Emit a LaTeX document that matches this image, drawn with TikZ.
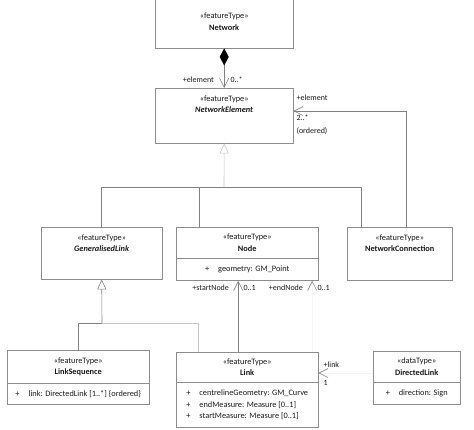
\documentclass[tikz,border=0pt]{standalone}
\usepackage{fontspec}
\setmainfont{Carlito}
\usetikzlibrary{arrows.meta, positioning}
\definecolor{boxgray}{gray}{0.55}
\definecolor{linegray}{gray}{0.5}
\definecolor{palegray}{gray}{0.78}
\definecolor{faintgray}{gray}{0.96}
\definecolor{txt}{gray}{0.1}

\begin{document}
\begin{tikzpicture}[x=1pt, y=-1pt, font=\fontsize{8.3}{11.5}\selectfont, text=txt,
    cls/.style={rectangle, draw=boxgray, fill=white, anchor=north west, inner sep=0pt},
    head/.style={cls, align=center},
    attrs/.style={cls, align=left, inner xsep=6pt},
    title/.style={align=center, inner sep=0pt},
    lbl/.style={inner sep=0pt, font=\fontsize{8}{12.5}\selectfont},
    line/.style={draw=linegray, line width=0.6pt},
    gen/.style={line, -{Triangle[open, length=10pt, width=9pt]}},
    assoc/.style={line, -{Straight Barb[length=9pt, width=9pt, color=linegray]}}]

    \useasboundingbox (0,0) rectangle (474,429);

    % classes with one compartment
    \node [cls, minimum width=138, minimum height=54] (network) at (155,-6) {};
    \node [title, below=19pt of network.north] (network-t) {«featureType»\\\textbf{Network}};
    \node [cls, minimum width=138, minimum height=55] (netelem) at (155,88) {};
    \node [title, below=7.5pt of netelem.north] (netelem-t) {«featureType»\\\textbf{\textit{NetworkElement}}};
    \node [cls, minimum width=121, minimum height=52] (genlink) at (41,227) {};
    \node [title, below=7.5pt of genlink.north] (genlink-t) {«featureType»\\\textbf{\textit{GeneralisedLink}}};
    \node [cls, minimum width=105, minimum height=53] (netconn) at (347,227) {};
    \node [title, below=7.5pt of netconn.north] (netconn-t) {«featureType»\\\textbf{NetworkConnection}};

    % classes with attributes
    \node [head, minimum width=142, minimum height=31] (nodeh) at (176,227) {«featureType»\\\textbf{Node}};
    \node [attrs, minimum width=142, minimum height=22] (nodeattr) at (nodeh.south west)
        {\begin{tabular}{@{}l@{\hspace{9pt}}l@{}}+ & geometry: GM\_Point\end{tabular}};
    \node [head, minimum width=142, minimum height=33] (linkseqh) at (7,350) {«featureType»\\\textbf{LinkSequence}};
    \node [attrs, minimum width=142, minimum height=21] (linkseqattr) at (linkseqh.south west)
        {\begin{tabular}{@{}l@{\hspace{9pt}}l@{}}+ & link: DirectedLink [1..*] \{ordered\}\end{tabular}};
    \node [head, minimum width=142, minimum height=30] (linkh) at (176,352) {«featureType»\\\textbf{Link}};
    \node [attrs, minimum width=142, minimum height=45] (linkattr) at (linkh.south west)
        {\begin{tabular}{@{}l@{\hspace{9pt}}l@{}}+ & centrelineGeometry: GM\_Curve\\+ & endMeasure: Measure [0..1]\\+ & startMeasure: Measure [0..1]\end{tabular}};
    \node [head, minimum width=87, minimum height=31] (dlinkh) at (373,351) {«dataType»\\\textbf{DirectedLink}};
    \node [attrs, minimum width=87, minimum height=22] (dlinkattr) at (dlinkh.south west)
        {\begin{tabular}{@{}l@{\hspace{9pt}}l@{}}+ & direction: Sign\end{tabular}};

    % composition
    \draw [line, {Diamond[color=black, length=17pt, width=9pt]}-{Straight Barb[length=9pt, width=9pt]}]
        (network) -- node[lbl, pos=0.78, left=10pt] (comp-role) {+element}
                     node[lbl, pos=0.78, right=6pt] (comp-mult) {0..*} (netelem);

    % network connection
    \draw [assoc] ([xshift=6.5pt]netconn.north) |- ([yshift=-23pt]netelem.north east);
    \node [lbl, anchor=south west] (nc-role) at ([xshift=3pt, yshift=-12.5pt]netelem.north east) {+element};
    \node [lbl, anchor=north west, align=left] (nc-mult) at ([xshift=3pt, yshift=-27pt]netelem.north east) {2..*\\(ordered)};

    % generalisation to NetworkElement
    \coordinate (gtop) at (224,187);
    \draw [gen, draw=palegray] (gtop) -- (netelem.south);
    \draw [line] (genlink.north) |- (gtop);
    \draw [line] ([xshift=-48pt]nodeh.north) |- (gtop);
    \draw [line] ([xshift=-38.5pt]netconn.north) |- (gtop);

    % generalisation to GeneralisedLink
    \coordinate (gmid) at (102,323);
    \draw [gen] (gmid) -- (genlink.south);
    \draw [line] (linkseqh.north) |- (gmid);
    \draw [line, draw=palegray] ([xshift=-49pt]linkh.north) |- (gmid);

    % start and end node
    \draw [assoc] ([xshift=-9pt]linkh.north) -- node[lbl, pos=0.9, left=9pt] (sn-role) {+startNode}
        node[lbl, pos=0.9, right=5pt] (sn-mult) {0..1} ([xshift=-9pt]nodeattr.south);
    \draw [assoc, draw=faintgray] ([xshift=65pt]linkh.north) -- node[lbl, pos=0.9, left=9pt] (en-role) {+endNode}
        node[lbl, pos=0.9, right=5pt] (en-mult) {0..1} ([xshift=65pt]nodeattr.south);

    % link to DirectedLink
    \coordinate (ln-tip) at ([yshift=-21pt]linkh.north east);
    \draw [assoc, draw=faintgray] (ln-tip -| dlinkh.west) -- (ln-tip);
    \node [lbl, anchor=south west] (ln-role) at ([xshift=5pt, yshift=5pt]ln-tip) {+link};
    \node [lbl, anchor=north west] (ln-mult) at ([xshift=5pt, yshift=-7pt]ln-tip) {1};
\end{tikzpicture}
\end{document}
